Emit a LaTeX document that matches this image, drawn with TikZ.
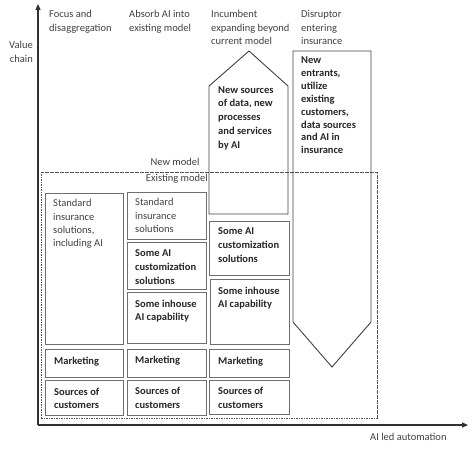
\documentclass[tikz,border=0pt]{standalone}
\usepackage{fontspec}
\setmainfont{Carlito}
\usetikzlibrary{arrows.meta,fit,calc}
\definecolor{linegray}{HTML}{6E6E6E}
\definecolor{pentgray}{HTML}{404040}
\definecolor{txtgray}{HTML}{404040}
\definecolor{axisgray}{HTML}{303030}
\definecolor{dashgray}{HTML}{555555}
\begin{document}
\begin{tikzpicture}[x=1pt,y=-1pt,
  box/.style={draw=linegray, line width=0.9pt, inner sep=0pt, outer sep=0pt},
  pent/.style={draw=pentgray, line width=0.9pt},
  lbl/.style={anchor=north west, inner sep=0pt, align=left, font=\fontsize{10.5}{13.3}\selectfont, text=txtgray},
  blbl/.style={anchor=north west, inner sep=0pt, align=left, font=\fontsize{10.5}{13.8}\selectfont\bfseries, text=black!85},
  dashbox/.style={draw=dashgray, line width=0.9pt, dash pattern=on 1.6pt off 0.9pt},
  axis/.style={draw=axisgray, line width=1.3pt, -{Triangle[length=6pt,width=5pt]}}
]
\useasboundingbox (0,0) rectangle (474,451);

% axes
\coordinate (O) at (38,425);
\coordinate (Ytop) at (38,4);
\coordinate (Xend) at (468,425);
\draw[axis] (O) -- (Ytop);
\draw[axis] (O) -- (Xend);
\node[lbl, anchor=north east, align=right] (vchain) at (33,41.5) {Value\\chain};
\node[lbl, anchor=west] (aiauto) at (370,437) {AI led automation};

% headers
\node[lbl] (h1) at (49,10.5) {Focus and\\disaggregation};
\node[lbl] (h2) at (129,10.5) {Absorb AI into\\existing model};
\node[lbl] (h3) at (211,10.5) {Incumbent\\expanding beyond\\current model};
\node[lbl] (h4) at (301,10.5) {Disruptor\\entering\\insurance};

% dashed model box
\node[dashbox, inner sep=0pt, fit={(41,172) (377,418)}] (model) {};
\node[lbl, anchor=center] (newmodel) at (175,162) {New model};
\node[lbl, anchor=east] (existmodel) at (208,179) {Existing model};

% column 1
\node[box, fit={(45,193) (123,344)}] (c1a) {};
\node[box, fit={(45,349) (123,377)}] (c1b) {};
\node[box, fit={(45,380) (123,415)}] (c1c) {};
\node[lbl] at ($(c1a.north west)+(8,6.5)$) {Standard\\insurance\\solutions,\\including AI};
\node[blbl] at ($(c1b.north west)+(9,7.5)$) {Marketing};
\node[blbl] at ($(c1c.north west)+(9,7.5)$) {Sources of\\customers};

% column 2
\node[box, fit={(127,192) (206,239)}] (c2a) {};
\node[box, fit={(127,242) (206,289)}] (c2b) {};
\node[box, fit={(127,292) (206,343)}] (c2c) {};
\node[box, fit={(127,349) (206,377)}] (c2d) {};
\node[box, fit={(127,380) (206,415)}] (c2e) {};
\node[lbl] at ($(c2a.north west)+(8,6.5)$) {Standard\\insurance\\solutions};
\node[blbl] at ($(c2b.north west)+(8,7.5)$) {Some AI\\customization\\solutions};
\node[blbl] at ($(c2c.north west)+(8,7.5)$) {Some inhouse\\AI capability};
\node[blbl] at ($(c2d.north west)+(8,7)$) {Marketing};
\node[blbl] at ($(c2e.north west)+(8,7)$) {Sources of\\customers};

% column 3
\coordinate (p1) at (209,214);
\coordinate (p2) at (209,86);
\coordinate (p3) at (249,51);
\coordinate (p4) at (288,86);
\coordinate (p5) at (288,214);
\draw[pent] (p1) -- (p2) -- (p3) -- (p4) -- (p5) -- cycle;
\node[blbl] (newsrc) at (218,86) {New sources\\of data, new\\processes\\and services\\by AI};
\node[box, fit={(209,221) (289,275)}] (c3b) {};
\node[box, fit={(210,279) (289,344)}] (c3c) {};
\node[box, fit={(209,349) (289,377)}] (c3d) {};
\node[box, fit={(209,380) (289,414)}] (c3e) {};
\node[blbl] at ($(c3b.north west)+(9,6.5)$) {Some AI\\customization\\solutions};
\node[blbl] at ($(c3c.north west)+(8,7.5)$) {Some inhouse\\AI capability};
\node[blbl] at ($(c3d.north west)+(9,7.5)$) {Marketing};
\node[blbl] at ($(c3e.north west)+(9,7)$) {Sources of\\customers};

% column 4
\coordinate (q1) at (293,51);
\coordinate (q2) at (371,51);
\coordinate (q3) at (371,322);
\coordinate (q4) at (332,367);
\coordinate (q5) at (293,322);
\draw[pent] (q1) -- (q2) -- (q3) -- (q4) -- (q5) -- cycle;
\node[blbl, font=\fontsize{10.5}{12.9}\selectfont\bfseries] (disr) at (301,56.5) {New\\entrants,\\utilize\\existing\\customers,\\data sources\\and AI in\\insurance};
\end{tikzpicture}
\end{document}
